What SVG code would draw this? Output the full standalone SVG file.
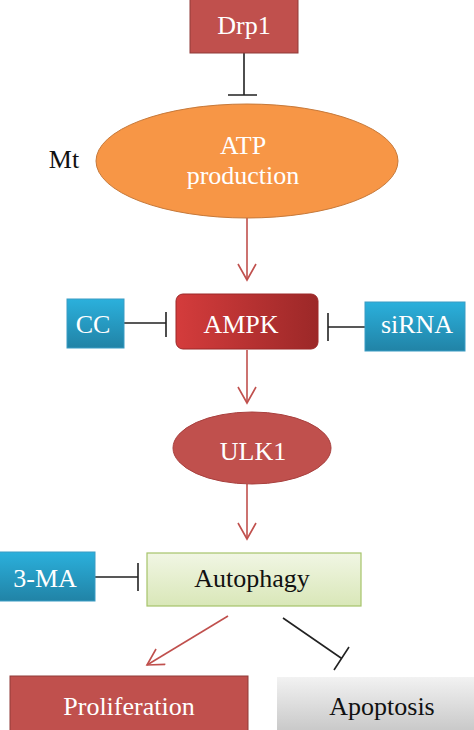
<svg xmlns="http://www.w3.org/2000/svg" width="474" height="730" viewBox="0 0 474 730">
<defs>
<linearGradient id="gAmpk" x1="0" y1="0" x2="1" y2="0"><stop offset="0" stop-color="#d43c3c"/><stop offset="1" stop-color="#9c2828"/></linearGradient>
<linearGradient id="gBlue" x1="0" y1="0" x2="0" y2="1"><stop offset="0" stop-color="#2bb0dc"/><stop offset="1" stop-color="#2183a6"/></linearGradient>
<linearGradient id="gGreen" x1="0" y1="0" x2="0" y2="1"><stop offset="0" stop-color="#f1f6e4"/><stop offset="1" stop-color="#d9e7b8"/></linearGradient>
<linearGradient id="gGray" x1="0" y1="0" x2="0" y2="1"><stop offset="0" stop-color="#f2f2f2"/><stop offset="1" stop-color="#c4c4c4"/></linearGradient>
<marker id="arr" viewBox="0 0 20 20" refX="18" refY="10" markerWidth="20" markerHeight="20" markerUnits="userSpaceOnUse" orient="auto">
<path d="M2,1 L18,10 L2,19" fill="none" stroke="#c0504d" stroke-width="1.6"/>
</marker>
</defs>
<style>
text{font-family:"Liberation Serif","DejaVu Serif",serif;font-size:26px;text-anchor:middle}
.w{fill:#ffffff}
.k{fill:#111111}
.red{fill:#c0504d;stroke:#8f3a38;stroke-width:1}
.blue{fill:url(#gBlue);stroke:#3a9cc4;stroke-width:1}
.act{stroke:#c0504d;stroke-width:1.6;fill:none}
.inh{stroke:#222222;stroke-width:1.6;fill:none}
</style>
<rect width="474" height="730" fill="#ffffff"/>
<g id="connectors">
<path class="inh" d="M244,53 V95 M228,95 H257"/>
<path class="act" d="M247,218 V280" marker-end="url(#arr)"/>
<path class="inh" d="M124,323 H166 M166,312 V337"/>
<path class="inh" d="M365,327 H328 M328,313 V341"/>
<path class="act" d="M247,350 V403" marker-end="url(#arr)"/>
<path class="act" d="M247,484 V539" marker-end="url(#arr)"/>
<path class="inh" d="M91,577 H138 M138,563 V591"/>
<path class="act" d="M228,616 L147,665" marker-end="url(#arr)"/>
<path class="inh" d="M283,618 L341,658 M334,670 L349,647"/>
</g>
<g id="drp1"><rect class="red" x="190" y="-2" width="108" height="55"/><text class="w" x="244" y="34">Drp1</text></g>
<g id="mt"><text class="k" x="64" y="168">Mt</text></g>
<g id="atp"><ellipse cx="247" cy="161" rx="151" ry="57" fill="#f79646" stroke="#c6793a" stroke-width="1"/><text class="w" x="243" y="154">ATP</text><text class="w" x="243" y="184">production</text></g>
<g id="cc"><rect class="blue" x="67" y="299" width="57" height="49"/><text class="w" x="93" y="333">CC</text></g>
<g id="ampk"><rect x="176" y="294" width="142" height="55" rx="7" fill="url(#gAmpk)" stroke="#9c2828" stroke-width="1"/><text class="w" x="241" y="333">AMPK</text></g>
<g id="sirna"><rect class="blue" x="365" y="302" width="100" height="49"/><text class="w" x="417" y="333">siRNA</text></g>
<g id="ulk1"><ellipse cx="252" cy="448" rx="79" ry="36" fill="#c0504d" stroke="#a8403e" stroke-width="1"/><text class="w" x="253" y="460">ULK1</text></g>
<g id="ma3"><rect class="blue" x="-1" y="552" width="96" height="49"/><text class="w" x="45" y="587">3-MA</text></g>
<g id="autophagy"><rect x="147" y="553" width="214" height="53" fill="url(#gGreen)" stroke="#a6c46a" stroke-width="1.2"/><text class="k" x="252" y="587">Autophagy</text></g>
<g id="proliferation"><rect class="red" x="10" y="676" width="238" height="60"/><text class="w" x="129" y="715">Proliferation</text></g>
<g id="apoptosis"><rect x="277" y="677" width="200" height="60" fill="url(#gGray)"/><text class="k" x="382" y="715">Apoptosis</text></g>
</svg>
